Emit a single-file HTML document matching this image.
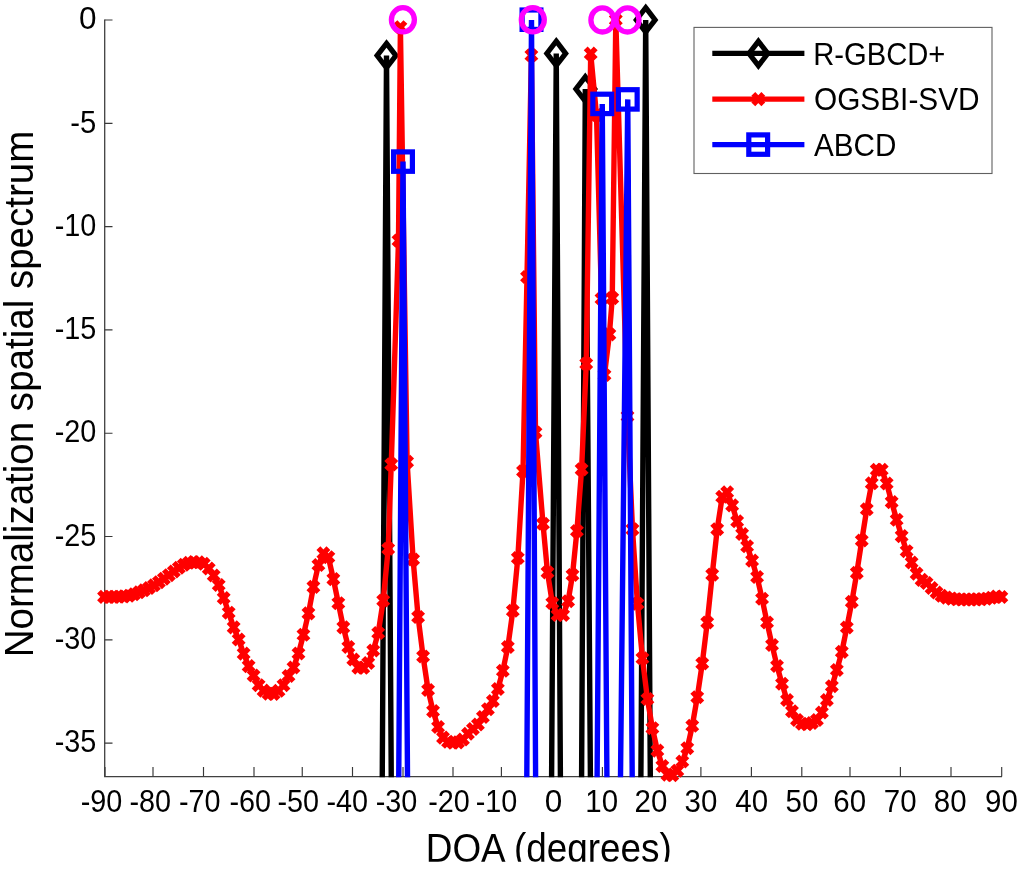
<!DOCTYPE html>
<html><head><meta charset="utf-8"><title>Normalization spatial spectrum vs DOA</title>
<style>html,body{margin:0;padding:0;background:#fff}svg{display:block}text{font-family:"Liberation Sans",Arial,Helvetica,sans-serif;fill:#000}</style></head><body>
<svg width="1024" height="872" viewBox="0 0 1024 872">
<rect width="1024" height="872" fill="#fff"/>
<defs><clipPath id="ax"><rect x="101.7" y="20" width="902.7" height="757.2"/></clipPath><clipPath id="xl"><rect x="0" y="0" width="1024" height="861.8"/></clipPath>
<g id="mx"><path d="M-5,-5.2L5,5.2M-5,5.2L5,-5.2" stroke="#f00" stroke-width="5.4" fill="none"/></g>
<g id="md"><path d="M0,-12.2L9.4,0L0,12.2L-9.4,0Z" stroke="#000" stroke-width="5.2" fill="none" stroke-miterlimit="10"/></g>
<g id="ms"><rect x="-9.4" y="-9.7" width="18.8" height="19.4" stroke="#00f" stroke-width="5.2" fill="none"/></g>
<g id="mo"><ellipse rx="11.5" ry="12.1" stroke="#f0f" stroke-width="5.3" fill="none"/></g>
</defs>
<g stroke="#404040" stroke-width="1.3" fill="none">
<path d="M104.7,19.5V776.6H1002"/>
</g>
<g stroke="#383838" stroke-width="1.15" fill="none">
<path d="M105,776.6v-9.5M153,776.6v-9.5M203.5,776.6v-9.5M254,776.6v-9.5M302.25,776.6v-9.5M352.5,776.6v-9.5M403,776.6v-9.5M453,776.6v-9.5M501.4,776.6v-9.5M552.5,776.6v-9.5M602.4,776.6v-9.5M652,776.6v-9.5M700.9,776.6v-9.5M751.4,776.6v-9.5M801.8,776.6v-9.5M850,776.6v-9.5M900.4,776.6v-9.5M951,776.6v-9.5M1001.7,776.6v-9.5M104.7,20h7.8M104.7,123.3h7.8M104.7,226.6h7.8M104.7,329.9h7.8M104.7,433.2h7.8M104.7,536.5h7.8M104.7,639.8h7.8M104.7,743.1h7.8"/>
</g>
<g font-size="31.5">
<text x="122.35" y="812.2" text-anchor="end" textLength="41.6" lengthAdjust="spacingAndGlyphs">-90</text>
<text x="171.1" y="812.2" text-anchor="end" textLength="41.6" lengthAdjust="spacingAndGlyphs">-80</text>
<text x="220.6" y="812.2" text-anchor="end" textLength="41.6" lengthAdjust="spacingAndGlyphs">-70</text>
<text x="271.1" y="812.2" text-anchor="end" textLength="41.6" lengthAdjust="spacingAndGlyphs">-60</text>
<text x="319.1" y="812.2" text-anchor="end" textLength="41.6" lengthAdjust="spacingAndGlyphs">-50</text>
<text x="368.1" y="812.2" text-anchor="end" textLength="41.6" lengthAdjust="spacingAndGlyphs">-40</text>
<text x="417.35" y="812.2" text-anchor="end" textLength="41.6" lengthAdjust="spacingAndGlyphs">-30</text>
<text x="469.85" y="812.2" text-anchor="end" textLength="41.6" lengthAdjust="spacingAndGlyphs">-20</text>
<text x="517.35" y="812.2" text-anchor="end" textLength="41.6" lengthAdjust="spacingAndGlyphs">-10</text>
<text x="553.4" y="812.2" text-anchor="middle">0</text>
<text x="618.1" y="812.2" text-anchor="end" textLength="32.8" lengthAdjust="spacingAndGlyphs">10</text>
<text x="667.35" y="812.2" text-anchor="end" textLength="32.8" lengthAdjust="spacingAndGlyphs">20</text>
<text x="717.35" y="812.2" text-anchor="end" textLength="32.8" lengthAdjust="spacingAndGlyphs">30</text>
<text x="768.1" y="812.2" text-anchor="end" textLength="32.8" lengthAdjust="spacingAndGlyphs">40</text>
<text x="818.3" y="812.2" text-anchor="end" textLength="32.8" lengthAdjust="spacingAndGlyphs">50</text>
<text x="866.1" y="812.2" text-anchor="end" textLength="32.8" lengthAdjust="spacingAndGlyphs">60</text>
<text x="916.6" y="812.2" text-anchor="end" textLength="32.8" lengthAdjust="spacingAndGlyphs">70</text>
<text x="966.6" y="812.2" text-anchor="end" textLength="32.8" lengthAdjust="spacingAndGlyphs">80</text>
<text x="1017.85" y="812.2" text-anchor="end" textLength="32.8" lengthAdjust="spacingAndGlyphs">90</text>
<text x="96.5" y="29" text-anchor="end">0</text>
<text x="96.3" y="132.5" text-anchor="end" textLength="26.0" lengthAdjust="spacingAndGlyphs">-5</text>
<text x="96.3" y="235.8" text-anchor="end" textLength="41.6" lengthAdjust="spacingAndGlyphs">-10</text>
<text x="96.3" y="339.1" text-anchor="end" textLength="41.6" lengthAdjust="spacingAndGlyphs">-15</text>
<text x="96.3" y="442.4" text-anchor="end" textLength="41.6" lengthAdjust="spacingAndGlyphs">-20</text>
<text x="96.3" y="545.7" text-anchor="end" textLength="41.6" lengthAdjust="spacingAndGlyphs">-25</text>
<text x="96.3" y="649" text-anchor="end" textLength="41.6" lengthAdjust="spacingAndGlyphs">-30</text>
<text x="96.3" y="752.3" text-anchor="end" textLength="41.6" lengthAdjust="spacingAndGlyphs">-35</text>
</g>
<g clip-path="url(#xl)"><text x="425.8" y="861.7" font-size="40.2" textLength="246" lengthAdjust="spacingAndGlyphs">DOA (degrees)</text></g>
<text transform="translate(33,657.3) rotate(-90)" font-size="41" textLength="526.6" lengthAdjust="spacingAndGlyphs">Normalization spatial spectrum</text>
<g clip-path="url(#ax)" fill="none" stroke-width="5.4" stroke-linejoin="miter" stroke-miterlimit="3">
<polyline stroke="#000" points="382.13,796.6 386.5,55.6 391.38,796.6"/>
<polyline stroke="#000" points="551.47,796.6 556.25,53.4 560.51,796.6"/>
<polyline stroke="#000" points="581.49,796.6 585.3,89 590.55,796.6"/>
<polyline stroke="#000" points="640.77,796.6 645.7,19.9 650.42,796.6"/>
</g>
<use href="#md" x="386.5" y="55.6"/>
<use href="#md" x="556.25" y="53.4"/>
<use href="#md" x="585.3" y="89"/>
<use href="#md" x="645.7" y="19.9"/>
<g clip-path="url(#ax)" fill="none" stroke-width="5.4">
<polyline stroke="#f00" stroke-linejoin="round" points="104.05,596.9 109.04,596.9 114.02,596.9 119,596.7 123.99,596.4 128.98,595.8 133.96,594.3 138.94,592.3 143.93,590.3 148.92,588 153.9,585.3 158.89,582.2 163.87,578.7 168.86,575.2 173.84,571.5 178.83,567.8 183.81,564.8 188.8,562.8 193.78,562 198.77,562.3 203.75,563.8 208.74,568.5 213.72,575.5 218.71,585 223.69,598 228.68,612.7 233.66,627.4 238.65,639.5 243.63,653.6 248.62,666.1 253.6,675.5 258.59,685.2 263.57,690.6 268.56,693.75 273.54,693.9 278.53,690.8 283.51,685.2 288.5,676 293.48,667.5 298.47,653.5 303.45,634.8 308.44,613.4 313.42,586.9 318.41,565 323.39,553.3 328.38,557.2 333.36,579.1 338.35,603.2 343.33,627.4 348.32,647 353.3,659.5 358.29,667.6 363.27,667.8 368.25,663 373.24,650.5 378.23,633 383.21,600.5 388.2,548.75 391.25,464.4 398.5,240.6 400.4,27.2 407.1,461.9 413.12,559.5 418.11,617 423.09,656.5 428.08,690 433.06,711.1 438.05,727 443.03,737.6 448.02,741.8 453,742.7 457.99,742.4 462.97,739.5 467.96,733.75 472.94,729 477.93,724.5 482.91,717 487.9,709.2 492.88,701 497.87,689 502.85,670.8 507.84,647 512.82,610.8 517.81,558 523,471.25 527,277 531.4,55.3 535.5,432.5 543,523.8 547.5,572.4 552.3,603 557.5,615 563.1,615 568.1,601.25 572.5,575 576.9,531 581.6,469.4 586.25,363.75 590.7,53.6 596.5,115 601.5,298.75 604.5,375 609.4,334.4 612.25,298.1 615.8,19.9 627.5,416.25 632.5,529.4 637.45,603.75 642.43,658.3 647.42,699 652.4,728.2 657.38,750.6 662.37,766 667.36,774.6 672.34,775.2 677.33,770.7 682.31,761.5 687.3,748.2 692.28,725.8 697.27,697.2 702.25,663.5 707.24,622.5 712.22,574.6 717.21,529.2 722.19,496.8 727.18,492.3 732.16,505.4 737.15,521.3 742.13,534 747.12,546.3 752.1,560.6 757.09,577 762.07,598.75 767.06,622.5 772.04,645 777.03,666 782.01,683.75 787,700 791.98,711.25 796.97,720 801.95,723.75 806.94,724.25 811.92,723 816.91,720 821.89,712.5 826.88,700 831.86,686.25 836.85,670 841.83,651.9 846.82,627.5 851.8,601.9 856.79,572.9 861.77,540.5 866.76,509.3 871.74,483.3 876.73,469.8 881.71,469.8 886.7,483.5 891.68,502.1 896.67,519.8 901.65,536.1 906.63,551.2 911.62,562.5 916.61,573.6 921.59,579.9 926.58,583 931.56,588 936.55,592.5 941.53,595.8 946.52,597.6 951.5,598.6 956.49,599.2 961.47,599.5 966.46,599.5 971.44,599.5 976.43,599.4 981.41,599.2 986.4,598.75 991.38,597.8 996.37,596.6 1001.35,597"/>
</g>
<g>
<use href="#mx" x="104.05" y="596.9"/>
<use href="#mx" x="109.04" y="596.9"/>
<use href="#mx" x="114.02" y="596.9"/>
<use href="#mx" x="119" y="596.7"/>
<use href="#mx" x="123.99" y="596.4"/>
<use href="#mx" x="128.98" y="595.8"/>
<use href="#mx" x="133.96" y="594.3"/>
<use href="#mx" x="138.94" y="592.3"/>
<use href="#mx" x="143.93" y="590.3"/>
<use href="#mx" x="148.92" y="588"/>
<use href="#mx" x="153.9" y="585.3"/>
<use href="#mx" x="158.89" y="582.2"/>
<use href="#mx" x="163.87" y="578.7"/>
<use href="#mx" x="168.86" y="575.2"/>
<use href="#mx" x="173.84" y="571.5"/>
<use href="#mx" x="178.83" y="567.8"/>
<use href="#mx" x="183.81" y="564.8"/>
<use href="#mx" x="188.8" y="562.8"/>
<use href="#mx" x="193.78" y="562"/>
<use href="#mx" x="198.77" y="562.3"/>
<use href="#mx" x="203.75" y="563.8"/>
<use href="#mx" x="208.74" y="568.5"/>
<use href="#mx" x="213.72" y="575.5"/>
<use href="#mx" x="218.71" y="585"/>
<use href="#mx" x="223.69" y="598"/>
<use href="#mx" x="228.68" y="612.7"/>
<use href="#mx" x="233.66" y="627.4"/>
<use href="#mx" x="238.65" y="639.5"/>
<use href="#mx" x="243.63" y="653.6"/>
<use href="#mx" x="248.62" y="666.1"/>
<use href="#mx" x="253.6" y="675.5"/>
<use href="#mx" x="258.59" y="685.2"/>
<use href="#mx" x="263.57" y="690.6"/>
<use href="#mx" x="268.56" y="693.75"/>
<use href="#mx" x="273.54" y="693.9"/>
<use href="#mx" x="278.53" y="690.8"/>
<use href="#mx" x="283.51" y="685.2"/>
<use href="#mx" x="288.5" y="676"/>
<use href="#mx" x="293.48" y="667.5"/>
<use href="#mx" x="298.47" y="653.5"/>
<use href="#mx" x="303.45" y="634.8"/>
<use href="#mx" x="308.44" y="613.4"/>
<use href="#mx" x="313.42" y="586.9"/>
<use href="#mx" x="318.41" y="565"/>
<use href="#mx" x="323.39" y="553.3"/>
<use href="#mx" x="328.38" y="557.2"/>
<use href="#mx" x="333.36" y="579.1"/>
<use href="#mx" x="338.35" y="603.2"/>
<use href="#mx" x="343.33" y="627.4"/>
<use href="#mx" x="348.32" y="647"/>
<use href="#mx" x="353.3" y="659.5"/>
<use href="#mx" x="358.29" y="667.6"/>
<use href="#mx" x="363.27" y="667.8"/>
<use href="#mx" x="368.25" y="663"/>
<use href="#mx" x="373.24" y="650.5"/>
<use href="#mx" x="378.23" y="633"/>
<use href="#mx" x="383.21" y="600.5"/>
<use href="#mx" x="388.2" y="548.75"/>
<use href="#mx" x="391.25" y="464.4"/>
<use href="#mx" x="398.5" y="240.6"/>
<use href="#mx" x="400.4" y="27.2"/>
<use href="#mx" x="407.1" y="461.9"/>
<use href="#mx" x="413.12" y="559.5"/>
<use href="#mx" x="418.11" y="617"/>
<use href="#mx" x="423.09" y="656.5"/>
<use href="#mx" x="428.08" y="690"/>
<use href="#mx" x="433.06" y="711.1"/>
<use href="#mx" x="438.05" y="727"/>
<use href="#mx" x="443.03" y="737.6"/>
<use href="#mx" x="448.02" y="741.8"/>
<use href="#mx" x="453" y="742.7"/>
<use href="#mx" x="457.99" y="742.4"/>
<use href="#mx" x="462.97" y="739.5"/>
<use href="#mx" x="467.96" y="733.75"/>
<use href="#mx" x="472.94" y="729"/>
<use href="#mx" x="477.93" y="724.5"/>
<use href="#mx" x="482.91" y="717"/>
<use href="#mx" x="487.9" y="709.2"/>
<use href="#mx" x="492.88" y="701"/>
<use href="#mx" x="497.87" y="689"/>
<use href="#mx" x="502.85" y="670.8"/>
<use href="#mx" x="507.84" y="647"/>
<use href="#mx" x="512.82" y="610.8"/>
<use href="#mx" x="517.81" y="558"/>
<use href="#mx" x="523" y="471.25"/>
<use href="#mx" x="527" y="277"/>
<use href="#mx" x="531.4" y="55.3"/>
<use href="#mx" x="535.5" y="432.5"/>
<use href="#mx" x="543" y="523.8"/>
<use href="#mx" x="547.5" y="572.4"/>
<use href="#mx" x="552.3" y="603"/>
<use href="#mx" x="557.5" y="615"/>
<use href="#mx" x="563.1" y="615"/>
<use href="#mx" x="568.1" y="601.25"/>
<use href="#mx" x="572.5" y="575"/>
<use href="#mx" x="576.9" y="531"/>
<use href="#mx" x="581.6" y="469.4"/>
<use href="#mx" x="586.25" y="363.75"/>
<use href="#mx" x="590.7" y="53.6"/>
<use href="#mx" x="596.5" y="115"/>
<use href="#mx" x="601.5" y="298.75"/>
<use href="#mx" x="604.5" y="375"/>
<use href="#mx" x="609.4" y="334.4"/>
<use href="#mx" x="612.25" y="298.1"/>
<use href="#mx" x="615.8" y="19.9"/>
<use href="#mx" x="627.5" y="416.25"/>
<use href="#mx" x="632.5" y="529.4"/>
<use href="#mx" x="637.45" y="603.75"/>
<use href="#mx" x="642.43" y="658.3"/>
<use href="#mx" x="647.42" y="699"/>
<use href="#mx" x="652.4" y="728.2"/>
<use href="#mx" x="657.38" y="750.6"/>
<use href="#mx" x="662.37" y="766"/>
<use href="#mx" x="667.36" y="774.6"/>
<use href="#mx" x="672.34" y="775.2"/>
<use href="#mx" x="677.33" y="770.7"/>
<use href="#mx" x="682.31" y="761.5"/>
<use href="#mx" x="687.3" y="748.2"/>
<use href="#mx" x="692.28" y="725.8"/>
<use href="#mx" x="697.27" y="697.2"/>
<use href="#mx" x="702.25" y="663.5"/>
<use href="#mx" x="707.24" y="622.5"/>
<use href="#mx" x="712.22" y="574.6"/>
<use href="#mx" x="717.21" y="529.2"/>
<use href="#mx" x="722.19" y="496.8"/>
<use href="#mx" x="727.18" y="492.3"/>
<use href="#mx" x="732.16" y="505.4"/>
<use href="#mx" x="737.15" y="521.3"/>
<use href="#mx" x="742.13" y="534"/>
<use href="#mx" x="747.12" y="546.3"/>
<use href="#mx" x="752.1" y="560.6"/>
<use href="#mx" x="757.09" y="577"/>
<use href="#mx" x="762.07" y="598.75"/>
<use href="#mx" x="767.06" y="622.5"/>
<use href="#mx" x="772.04" y="645"/>
<use href="#mx" x="777.03" y="666"/>
<use href="#mx" x="782.01" y="683.75"/>
<use href="#mx" x="787" y="700"/>
<use href="#mx" x="791.98" y="711.25"/>
<use href="#mx" x="796.97" y="720"/>
<use href="#mx" x="801.95" y="723.75"/>
<use href="#mx" x="806.94" y="724.25"/>
<use href="#mx" x="811.92" y="723"/>
<use href="#mx" x="816.91" y="720"/>
<use href="#mx" x="821.89" y="712.5"/>
<use href="#mx" x="826.88" y="700"/>
<use href="#mx" x="831.86" y="686.25"/>
<use href="#mx" x="836.85" y="670"/>
<use href="#mx" x="841.83" y="651.9"/>
<use href="#mx" x="846.82" y="627.5"/>
<use href="#mx" x="851.8" y="601.9"/>
<use href="#mx" x="856.79" y="572.9"/>
<use href="#mx" x="861.77" y="540.5"/>
<use href="#mx" x="866.76" y="509.3"/>
<use href="#mx" x="871.74" y="483.3"/>
<use href="#mx" x="876.73" y="469.8"/>
<use href="#mx" x="881.71" y="469.8"/>
<use href="#mx" x="886.7" y="483.5"/>
<use href="#mx" x="891.68" y="502.1"/>
<use href="#mx" x="896.67" y="519.8"/>
<use href="#mx" x="901.65" y="536.1"/>
<use href="#mx" x="906.63" y="551.2"/>
<use href="#mx" x="911.62" y="562.5"/>
<use href="#mx" x="916.61" y="573.6"/>
<use href="#mx" x="921.59" y="579.9"/>
<use href="#mx" x="926.58" y="583"/>
<use href="#mx" x="931.56" y="588"/>
<use href="#mx" x="936.55" y="592.5"/>
<use href="#mx" x="941.53" y="595.8"/>
<use href="#mx" x="946.52" y="597.6"/>
<use href="#mx" x="951.5" y="598.6"/>
<use href="#mx" x="956.49" y="599.2"/>
<use href="#mx" x="961.47" y="599.5"/>
<use href="#mx" x="966.46" y="599.5"/>
<use href="#mx" x="971.44" y="599.5"/>
<use href="#mx" x="976.43" y="599.4"/>
<use href="#mx" x="981.41" y="599.2"/>
<use href="#mx" x="986.4" y="598.75"/>
<use href="#mx" x="991.38" y="597.8"/>
<use href="#mx" x="996.37" y="596.6"/>
<use href="#mx" x="1001.35" y="597"/>
</g>
<g clip-path="url(#ax)" fill="none" stroke-width="5.4" stroke-linejoin="miter" stroke-miterlimit="3">
<polyline stroke="#00f" points="398.61,796.6 403,161.6 407.65,796.6"/>
<polyline stroke="#00f" points="526.68,796.6 531.5,19.7 535.71,796.6"/>
<polyline stroke="#00f" points="596.95,796.6 602.25,103.9 607.04,796.6"/>
<polyline stroke="#00f" points="620.29,796.6 627.75,99.4 632.33,796.6"/>
</g>
<use href="#ms" x="403" y="161.6"/>
<use href="#ms" x="531.5" y="19.7"/>
<use href="#ms" x="602.25" y="103.9"/>
<use href="#ms" x="627.75" y="99.4"/>
<use href="#mo" x="402.9" y="19.8"/>
<use href="#mo" x="532.8" y="19.8"/>
<use href="#mo" x="602.4" y="19.9"/>
<use href="#mo" x="627.5" y="19.9"/>
<rect x="694" y="27.4" width="298" height="146.1" fill="#fff" stroke="#606060" stroke-width="1.1"/>
<g stroke-width="5.4" fill="none">
<path d="M712.3,53.4H804.4" stroke="#000"/><path d="M712.3,99.1H804.4" stroke="#f00"/><path d="M712.3,144.6H804.4" stroke="#00f"/>
</g>
<use href="#md" x="758.4" y="53.5"/><use href="#mx" x="758.3" y="99.1"/><use href="#ms" x="758.2" y="144.6"/>
<g font-size="30.9" lengthAdjust="spacingAndGlyphs"><text x="813.2" y="64.6" textLength="132.2" lengthAdjust="spacingAndGlyphs">R-GBCD+</text><text x="814" y="110.1" textLength="165.6" lengthAdjust="spacingAndGlyphs">OGSBI-SVD</text><text x="814" y="155.7" textLength="82.4" lengthAdjust="spacingAndGlyphs">ABCD</text></g>
</svg></body></html>
